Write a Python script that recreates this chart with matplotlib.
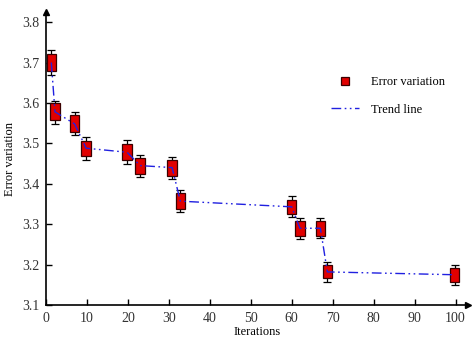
import numpy as np
import matplotlib
matplotlib.use("Agg")
import matplotlib.pyplot as plt

plt.rcParams['font.family'] = ['Liberation Serif', 'DejaVu Serif']

# Data
iterations = [1.3, 2.2, 7.0, 9.8, 19.8, 23.0, 30.8, 32.8, 60.0, 62.0, 67.0, 68.7, 99.8]
err_mid = [3.700, 3.578, 3.548, 3.488, 3.478, 3.445, 3.440, 3.357, 3.343, 3.290, 3.290, 3.182, 3.175]
box_low = [3.678, 3.557, 3.527, 3.468, 3.458, 3.425, 3.420, 3.337, 3.325, 3.272, 3.272, 3.167, 3.158]
box_high = [3.722, 3.600, 3.570, 3.505, 3.498, 3.463, 3.458, 3.377, 3.360, 3.307, 3.307, 3.200, 3.192]
whisk_low = [3.668, 3.548, 3.520, 3.458, 3.450, 3.418, 3.412, 3.330, 3.318, 3.264, 3.266, 3.158, 3.150]
whisk_high = [3.730, 3.605, 3.578, 3.515, 3.508, 3.472, 3.466, 3.385, 3.370, 3.315, 3.315, 3.207, 3.200]

x = np.array(iterations)
mid = np.array(err_mid)
trend_ls = (0, (7, 2.5, 1.2, 2.5, 1.2, 2.5))

fig = plt.figure(figsize=(4.74, 3.42), dpi=100)
ax = fig.add_axes([0.097, 0.108, 0.890, 0.857])

# whiskers behind boxes
ax.errorbar(x, mid, yerr=[mid - np.array(whisk_low), np.array(whisk_high) - mid],
            fmt='none', ecolor='black', elinewidth=0.9, capsize=3, capthick=0.9, zorder=1)
heights = np.array(box_high) - np.array(box_low)
ax.bar(x, heights, bottom=box_low, width=2.3, color='#e10000', edgecolor='#3a0000',
       linewidth=0.9, zorder=2)
ax.plot(x, mid, color='#2020e0', lw=1.0, ls=trend_ls, zorder=3)

# legend handles
ax.plot([], [], ls='none', marker='s', ms=6, mfc='#e10000', mec='#3a0000', mew=0.9,
        label='Error variation')
ax.plot([], [], color='#2020e0', lw=1.0, ls=trend_ls, label='Trend line')
h, l = ax.get_legend_handles_labels()
ax.legend(h[-2:], l[-2:], loc='upper left', bbox_to_anchor=(0.65, 0.82), frameon=False,
          fontsize=9, handlelength=2.2, labelspacing=1.25, handletextpad=1.0)

ax.set_xlim(0, 103)
ax.set_ylim(3.1, 3.825)
ax.set_xticks(np.arange(0, 101, 10))
ax.set_yticks(np.arange(3.1, 3.81, 0.1))
ax.set_yticklabels(['%.1f' % v for v in np.arange(3.1, 3.81, 0.1)])
ax.tick_params(direction='in', length=4, width=1, labelsize=10, colors='black',
               labelcolor='#333333', pad=5)
ax.spines['top'].set_visible(False)
ax.spines['right'].set_visible(False)
ax.spines['left'].set_linewidth(1.2)
ax.spines['bottom'].set_linewidth(1.2)

# axis arrows
ax.plot(1, 0, '>k', ms=5, transform=ax.transAxes, clip_on=False)
ax.plot(0, 1, '^k', ms=5, transform=ax.transAxes, clip_on=False)

ax.set_xlabel('Iterations', fontsize=9, labelpad=1)
ax.set_ylabel('Error variation', fontsize=9)
ax.yaxis.set_label_coords(-0.072, 0.5)

fig.savefig('out.png', dpi=100)
